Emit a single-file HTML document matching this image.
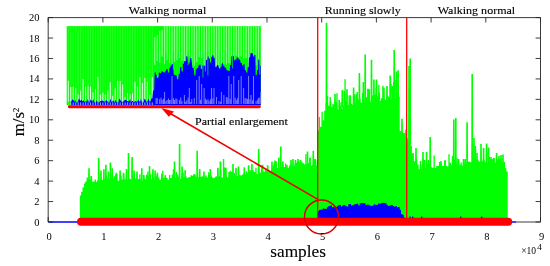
<!DOCTYPE html><html><head><meta charset="utf-8"><title>chart</title><style>html,body{margin:0;padding:0;background:#fff}svg{display:block}text{font-family:"Liberation Serif",serif;fill:#000}.b{stroke:#000;stroke-width:0.12px}</style></head><body>
<svg width="550" height="266" viewBox="0 0 550 266">
<rect width="550" height="266" fill="#fff"/>
<path d="M79.8,222 L79.80,195.49 L81.15,195.49 L81.15,191.80 L82.50,191.80 L82.50,187.42 L83.85,187.42 L83.85,183.53 L85.20,183.53 L85.20,181.58 L86.55,181.58 L86.55,177.47 L87.90,177.47 L87.90,179.56 L89.25,179.56 L89.25,179.69 L90.60,179.69 L90.60,176.06 L91.95,176.06 L91.95,182.10 L93.30,182.10 L93.30,181.49 L94.65,181.49 L94.65,179.58 L96.00,179.58 L96.00,181.81 L97.35,181.81 L97.35,180.26 L98.70,180.26 L98.70,180.50 L100.05,180.50 L100.05,178.45 L101.40,178.45 L101.40,179.88 L102.75,179.88 L102.75,179.65 L104.10,179.65 L104.10,179.13 L105.45,179.13 L105.45,175.55 L106.80,175.55 L106.80,178.53 L108.15,178.53 L108.15,178.12 L109.50,178.12 L109.50,180.30 L110.85,180.30 L110.85,178.41 L112.20,178.41 L112.20,178.77 L113.55,178.77 L113.55,176.18 L114.90,176.18 L114.90,174.85 L116.25,174.85 L116.25,173.91 L117.60,173.91 L117.60,180.80 L118.95,180.80 L118.95,180.64 L120.30,180.64 L120.30,175.87 L121.65,175.87 L121.65,179.56 L123.00,179.56 L123.00,174.35 L124.35,174.35 L124.35,179.59 L125.70,179.59 L125.70,178.39 L127.05,178.39 L127.05,180.28 L128.40,180.28 L128.40,178.73 L129.75,178.73 L129.75,178.96 L131.10,178.96 L131.10,180.87 L132.45,180.87 L132.45,174.81 L133.80,174.81 L133.80,179.33 L135.15,179.33 L135.15,178.58 L136.50,178.58 L136.50,178.54 L137.85,178.54 L137.85,179.06 L139.20,179.06 L139.20,174.16 L140.55,174.16 L140.55,179.19 L141.90,179.19 L141.90,180.83 L143.25,180.83 L143.25,177.69 L144.60,177.69 L144.60,179.37 L145.95,179.37 L145.95,174.54 L147.30,174.54 L147.30,171.50 L148.65,171.50 L148.65,175.93 L150.00,175.93 L150.00,174.31 L151.35,174.31 L151.35,179.25 L152.70,179.25 L152.70,177.51 L154.05,177.51 L154.05,180.08 L155.40,180.08 L155.40,175.35 L156.75,175.35 L156.75,176.16 L158.10,176.16 L158.10,177.86 L159.45,177.86 L159.45,179.63 L160.80,179.63 L160.80,178.86 L162.15,178.86 L162.15,170.74 L163.50,170.74 L163.50,178.03 L164.85,178.03 L164.85,177.36 L166.20,177.36 L166.20,178.06 L167.55,178.06 L167.55,179.68 L168.90,179.68 L168.90,175.01 L170.25,175.01 L170.25,178.12 L171.60,178.12 L171.60,174.52 L172.95,174.52 L172.95,177.99 L174.30,177.99 L174.30,177.65 L175.65,177.65 L175.65,171.97 L177.00,171.97 L177.00,174.50 L178.35,174.50 L178.35,176.84 L179.70,176.84 L179.70,178.92 L181.05,178.92 L181.05,176.53 L182.40,176.53 L182.40,172.65 L183.75,172.65 L183.75,177.25 L185.10,177.25 L185.10,176.02 L186.45,176.02 L186.45,177.77 L187.80,177.77 L187.80,177.60 L189.15,177.60 L189.15,176.92 L190.50,176.92 L190.50,175.36 L191.85,175.36 L191.85,175.75 L193.20,175.75 L193.20,173.98 L194.55,173.98 L194.55,174.45 L195.90,174.45 L195.90,176.78 L197.25,176.78 L197.25,177.27 L198.60,177.27 L198.60,177.20 L199.95,177.20 L199.95,176.66 L201.30,176.66 L201.30,176.42 L202.65,176.42 L202.65,175.93 L204.00,175.93 L204.00,176.75 L205.35,176.75 L205.35,175.56 L206.70,175.56 L206.70,177.86 L208.05,177.86 L208.05,172.19 L209.40,172.19 L209.40,174.19 L210.75,174.19 L210.75,175.53 L212.10,175.53 L212.10,177.46 L213.45,177.46 L213.45,178.06 L214.80,178.06 L214.80,176.64 L216.15,176.64 L216.15,176.37 L217.50,176.37 L217.50,176.97 L218.85,176.97 L218.85,175.91 L220.20,175.91 L220.20,170.63 L221.55,170.63 L221.55,177.46 L222.90,177.46 L222.90,159.10 L224.25,159.10 L224.25,167.43 L225.60,167.43 L225.60,176.56 L226.95,176.56 L226.95,177.54 L228.30,177.54 L228.30,171.89 L229.65,171.89 L229.65,170.83 L231.00,170.83 L231.00,171.78 L232.35,171.78 L232.35,176.77 L233.70,176.77 L233.70,173.07 L235.05,173.07 L235.05,176.16 L236.40,176.16 L236.40,176.07 L237.75,176.07 L237.75,175.40 L239.10,175.40 L239.10,174.64 L240.45,174.64 L240.45,175.38 L241.80,175.38 L241.80,174.39 L243.15,174.39 L243.15,173.51 L244.50,173.51 L244.50,174.47 L245.85,174.47 L245.85,171.29 L247.20,171.29 L247.20,172.75 L248.55,172.75 L248.55,170.62 L249.90,170.62 L249.90,170.25 L251.25,170.25 L251.25,171.37 L252.60,171.37 L252.60,170.14 L253.95,170.14 L253.95,172.07 L255.30,172.07 L255.30,167.85 L256.65,167.85 L256.65,174.12 L258.00,174.12 L258.00,167.95 L259.35,167.95 L259.35,172.69 L260.70,172.69 L260.70,172.37 L262.05,172.37 L262.05,164.70 L263.40,164.70 L263.40,171.78 L264.75,171.78 L264.75,169.57 L266.10,169.57 L266.10,170.68 L267.45,170.68 L267.45,171.45 L268.80,171.45 L268.80,170.27 L270.15,170.27 L270.15,171.15 L271.50,171.15 L271.50,168.24 L272.85,168.24 L272.85,165.22 L274.20,165.22 L274.20,160.28 L275.55,160.28 L275.55,161.23 L276.90,161.23 L276.90,168.04 L278.25,168.04 L278.25,169.24 L279.60,169.24 L279.60,165.23 L280.95,165.23 L280.95,166.99 L282.30,166.99 L282.30,164.53 L283.65,164.53 L283.65,167.02 L285.00,167.02 L285.00,163.39 L286.35,163.39 L286.35,164.91 L287.70,164.91 L287.70,167.64 L289.05,167.64 L289.05,165.32 L290.40,165.32 L290.40,165.81 L291.75,165.81 L291.75,166.40 L293.10,166.40 L293.10,166.16 L294.45,166.16 L294.45,163.68 L295.80,163.68 L295.80,162.69 L297.15,162.69 L297.15,161.60 L298.50,161.60 L298.50,161.96 L299.85,161.96 L299.85,164.38 L301.20,164.38 L301.20,161.79 L302.55,161.79 L302.55,163.27 L303.90,163.27 L303.90,164.25 L305.25,164.25 L305.25,154.23 L306.60,154.23 L306.60,164.43 L307.95,164.43 L307.95,162.91 L309.30,162.91 L309.30,157.59 L310.65,157.59 L310.65,165.70 L312.00,165.70 L312.00,165.03 L313.35,165.03 L313.35,159.37 L314.70,159.37 L314.70,158.89 L316.05,158.89 L316.05,165.85 L317.40,165.85 L317.40,130.39 L318.75,130.39 L318.75,116.97 L320.10,116.97 L320.10,126.69 L321.45,126.69 L321.45,111.75 L322.80,111.75 L322.80,120.22 L324.15,120.22 L324.15,110.87 L325.50,110.87 L325.50,102.90 L326.85,102.90 L326.85,95.99 L328.20,95.99 L328.20,105.65 L329.55,105.65 L329.55,96.99 L330.90,96.99 L330.90,107.22 L332.25,107.22 L332.25,103.66 L333.60,103.66 L333.60,104.83 L334.95,104.83 L334.95,102.40 L336.30,102.40 L336.30,93.17 L337.65,93.17 L337.65,109.29 L339.00,109.29 L339.00,105.75 L340.35,105.75 L340.35,102.36 L341.70,102.36 L341.70,108.52 L343.05,108.52 L343.05,105.82 L344.40,105.82 L344.40,79.27 L345.75,79.27 L345.75,101.12 L347.10,101.12 L347.10,105.06 L348.45,105.06 L348.45,95.42 L349.80,95.42 L349.80,102.39 L351.15,102.39 L351.15,103.99 L352.50,103.99 L352.50,104.91 L353.85,104.91 L353.85,94.51 L355.20,94.51 L355.20,102.77 L356.55,102.77 L356.55,92.07 L357.90,92.07 L357.90,99.48 L359.25,99.48 L359.25,98.13 L360.60,98.13 L360.60,102.64 L361.95,102.64 L361.95,93.01 L363.30,93.01 L363.30,102.30 L364.65,102.30 L364.65,98.39 L366.00,98.39 L366.00,97.26 L367.35,97.26 L367.35,89.33 L368.70,89.33 L368.70,89.28 L370.05,89.28 L370.05,101.42 L371.40,101.42 L371.40,95.45 L372.75,95.45 L372.75,95.50 L374.10,95.50 L374.10,94.42 L375.45,94.42 L375.45,87.96 L376.80,87.96 L376.80,96.13 L378.15,96.13 L378.15,84.67 L379.50,84.67 L379.50,100.85 L380.85,100.85 L380.85,98.35 L382.20,98.35 L382.20,85.86 L383.55,85.86 L383.55,98.80 L384.90,98.80 L384.90,99.84 L386.25,99.84 L386.25,98.71 L387.60,98.71 L387.60,96.38 L388.95,96.38 L388.95,97.15 L390.30,97.15 L390.30,83.97 L391.65,83.97 L391.65,98.77 L393.00,98.77 L393.00,81.66 L394.35,81.66 L394.35,79.95 L395.70,79.95 L395.70,98.42 L397.05,98.42 L397.05,94.86 L398.40,94.86 L398.40,96.83 L399.75,96.83 L399.75,131.04 L401.10,131.04 L401.10,132.32 L402.45,132.32 L402.45,133.12 L403.80,133.12 L403.80,132.95 L405.15,132.95 L405.15,129.38 L406.50,129.38 L406.50,138.16 L407.85,138.16 L407.85,141.29 L409.20,141.29 L409.20,138.28 L410.55,138.28 L410.55,145.71 L411.90,145.71 L411.90,154.31 L413.25,154.31 L413.25,161.29 L414.60,161.29 L414.60,161.21 L415.95,161.21 L415.95,159.17 L417.30,159.17 L417.30,164.39 L418.65,164.39 L418.65,169.20 L420.00,169.20 L420.00,164.91 L421.35,164.91 L421.35,168.64 L422.70,168.64 L422.70,159.86 L424.05,159.86 L424.05,167.70 L425.40,167.70 L425.40,168.20 L426.75,168.20 L426.75,163.91 L428.10,163.91 L428.10,166.83 L429.45,166.83 L429.45,163.74 L430.80,163.74 L430.80,167.25 L432.15,167.25 L432.15,167.71 L433.50,167.71 L433.50,155.62 L434.85,155.62 L434.85,168.02 L436.20,168.02 L436.20,166.11 L437.55,166.11 L437.55,165.74 L438.90,165.74 L438.90,162.07 L440.25,162.07 L440.25,163.01 L441.60,163.01 L441.60,165.79 L442.95,165.79 L442.95,166.12 L444.30,166.12 L444.30,161.55 L445.65,161.55 L445.65,165.92 L447.00,165.92 L447.00,166.55 L448.35,166.55 L448.35,154.35 L449.70,154.35 L449.70,162.73 L451.05,162.73 L451.05,165.19 L452.40,165.19 L452.40,165.56 L453.75,165.56 L453.75,159.68 L455.10,159.68 L455.10,164.80 L456.45,164.80 L456.45,158.33 L457.80,158.33 L457.80,162.86 L459.15,162.86 L459.15,164.68 L460.50,164.68 L460.50,162.52 L461.85,162.52 L461.85,165.74 L463.20,165.74 L463.20,164.21 L464.55,164.21 L464.55,160.27 L465.90,160.27 L465.90,165.01 L467.25,165.01 L467.25,161.79 L468.60,161.79 L468.60,161.52 L469.95,161.52 L469.95,163.46 L471.30,163.46 L471.30,162.00 L472.65,162.00 L472.65,158.43 L474.00,158.43 L474.00,162.28 L475.35,162.28 L475.35,162.83 L476.70,162.83 L476.70,159.30 L478.05,159.30 L478.05,160.42 L479.40,160.42 L479.40,161.73 L480.75,161.73 L480.75,162.50 L482.10,162.50 L482.10,160.74 L483.45,160.74 L483.45,160.30 L484.80,160.30 L484.80,162.18 L486.15,162.18 L486.15,163.31 L487.50,163.31 L487.50,152.46 L488.85,152.46 L488.85,157.03 L490.20,157.03 L490.20,159.89 L491.55,159.89 L491.55,159.02 L492.90,159.02 L492.90,157.85 L494.25,157.85 L494.25,162.89 L495.60,162.89 L495.60,161.86 L496.95,161.86 L496.95,159.49 L498.30,159.49 L498.30,160.83 L499.65,160.83 L499.65,159.54 L501.00,159.54 L501.00,161.91 L502.35,161.91 L502.35,163.11 L503.70,163.11 L503.70,162.05 L505.05,162.05 L505.05,168.18 L506.40,168.18 L506.40,171.58 L507.75,171.58 L507.75,222.00 L508.20,222.00 L508.2,222 Z" fill="#00ff00"/>
<path d="M88.05,183.95 L88.20,168.20 L89.80,168.20 L89.95,183.95 Z" fill="#00ff00"/>
<path d="M90.35,183.85 L90.50,176.00 L92.10,176.00 L92.25,183.85 Z" fill="#00ff00"/>
<path d="M97.75,183.51 L97.90,158.00 L99.50,158.00 L99.65,183.51 Z" fill="#00ff00"/>
<path d="M100.05,183.41 L100.20,170.50 L101.80,170.50 L101.95,183.41 Z" fill="#00ff00"/>
<path d="M102.95,183.28 L103.10,169.30 L104.70,169.30 L104.85,183.28 Z" fill="#00ff00"/>
<path d="M104.95,183.19 L105.10,164.80 L106.70,164.80 L106.85,183.19 Z" fill="#00ff00"/>
<path d="M107.45,183.07 L107.60,171.60 L109.20,171.60 L109.35,183.07 Z" fill="#00ff00"/>
<path d="M109.45,182.99 L109.60,162.60 L111.20,162.60 L111.35,182.99 Z" fill="#00ff00"/>
<path d="M111.25,182.94 L111.40,168.20 L113.00,168.20 L113.15,182.94 Z" fill="#00ff00"/>
<path d="M115.35,182.84 L115.50,172.70 L117.10,172.70 L117.25,182.84 Z" fill="#00ff00"/>
<path d="M119.15,182.75 L119.30,170.50 L120.90,170.50 L121.05,182.75 Z" fill="#00ff00"/>
<path d="M122.55,182.66 L122.70,172.70 L124.30,172.70 L124.45,182.66 Z" fill="#00ff00"/>
<path d="M125.55,182.59 L125.70,169.00 L127.30,169.00 L127.45,182.59 Z" fill="#00ff00"/>
<path d="M127.55,182.54 L127.70,153.00 L129.30,153.00 L129.45,182.54 Z" fill="#00ff00"/>
<path d="M131.15,182.45 L131.30,157.00 L132.90,157.00 L133.05,182.45 Z" fill="#00ff00"/>
<path d="M133.15,182.40 L133.30,170.50 L134.90,170.50 L135.05,182.40 Z" fill="#00ff00"/>
<path d="M136.05,182.32 L136.20,171.60 L137.80,171.60 L137.95,182.32 Z" fill="#00ff00"/>
<path d="M140.85,182.21 L141.00,168.20 L142.60,168.20 L142.75,182.21 Z" fill="#00ff00"/>
<path d="M142.85,182.16 L143.00,175.00 L144.60,175.00 L144.75,182.16 Z" fill="#00ff00"/>
<path d="M148.55,182.01 L148.70,166.00 L150.30,166.00 L150.45,182.01 Z" fill="#00ff00"/>
<path d="M151.95,181.85 L152.10,169.30 L153.70,169.30 L153.85,181.85 Z" fill="#00ff00"/>
<path d="M154.15,181.75 L154.30,170.50 L155.90,170.50 L156.05,181.75 Z" fill="#00ff00"/>
<path d="M156.45,181.63 L156.60,172.70 L158.20,172.70 L158.35,181.63 Z" fill="#00ff00"/>
<path d="M160.95,181.41 L161.10,173.40 L162.70,173.40 L162.85,181.41 Z" fill="#00ff00"/>
<path d="M164.35,181.24 L164.50,175.00 L166.10,175.00 L166.25,181.24 Z" fill="#00ff00"/>
<path d="M172.65,180.88 L172.80,169.30 L174.40,169.30 L174.55,180.88 Z" fill="#00ff00"/>
<path d="M173.55,180.85 L173.70,161.50 L175.30,161.50 L175.45,180.85 Z" fill="#00ff00"/>
<path d="M178.65,180.68 L178.80,143.90 L180.40,143.90 L180.55,180.68 Z" fill="#00ff00"/>
<path d="M181.15,180.60 L181.30,166.50 L182.90,166.50 L183.05,180.60 Z" fill="#00ff00"/>
<path d="M184.15,180.50 L184.30,170.30 L185.90,170.30 L186.05,180.50 Z" fill="#00ff00"/>
<path d="M196.25,180.09 L196.40,150.70 L198.00,150.70 L198.15,180.09 Z" fill="#00ff00"/>
<path d="M198.75,180.01 L198.90,169.00 L200.50,169.00 L200.65,180.01 Z" fill="#00ff00"/>
<path d="M203.05,179.87 L203.20,171.60 L204.80,171.60 L204.95,179.87 Z" fill="#00ff00"/>
<path d="M209.35,179.66 L209.50,169.00 L211.10,169.00 L211.25,179.66 Z" fill="#00ff00"/>
<path d="M216.95,179.40 L217.10,167.80 L218.70,167.80 L218.85,179.40 Z" fill="#00ff00"/>
<path d="M219.45,179.32 L219.60,161.50 L221.20,161.50 L221.35,179.32 Z" fill="#00ff00"/>
<path d="M223.25,179.19 L223.40,170.30 L225.00,170.30 L225.15,179.19 Z" fill="#00ff00"/>
<path d="M224.95,179.14 L225.10,167.80 L226.70,167.80 L226.85,179.14 Z" fill="#00ff00"/>
<path d="M232.05,178.70 L232.20,164.00 L233.80,164.00 L233.95,178.70 Z" fill="#00ff00"/>
<path d="M235.05,178.40 L235.20,167.80 L236.80,167.80 L236.95,178.40 Z" fill="#00ff00"/>
<path d="M237.55,178.15 L237.70,166.50 L239.30,166.50 L239.45,178.15 Z" fill="#00ff00"/>
<path d="M243.35,177.57 L243.50,167.30 L245.10,167.30 L245.25,177.57 Z" fill="#00ff00"/>
<path d="M247.65,177.14 L247.80,165.30 L249.40,165.30 L249.55,177.14 Z" fill="#00ff00"/>
<path d="M250.95,176.72 L251.10,164.00 L252.70,164.00 L252.85,176.72 Z" fill="#00ff00"/>
<path d="M257.75,175.69 L257.90,148.90 L259.50,148.90 L259.65,175.69 Z" fill="#00ff00"/>
<path d="M260.95,175.22 L261.10,165.30 L262.70,165.30 L262.85,175.22 Z" fill="#00ff00"/>
<path d="M266.75,174.34 L266.90,165.30 L268.50,165.30 L268.65,174.34 Z" fill="#00ff00"/>
<path d="M271.05,173.47 L271.20,161.50 L272.80,161.50 L272.95,173.47 Z" fill="#00ff00"/>
<path d="M273.55,172.80 L273.70,162.70 L275.30,162.70 L275.45,172.80 Z" fill="#00ff00"/>
<path d="M277.85,171.65 L278.00,157.70 L279.60,157.70 L279.75,171.65 Z" fill="#00ff00"/>
<path d="M279.85,171.12 L280.00,146.40 L281.60,146.40 L281.75,171.12 Z" fill="#00ff00"/>
<path d="M281.85,170.59 L282.00,161.50 L283.60,161.50 L283.75,170.59 Z" fill="#00ff00"/>
<path d="M290.05,168.50 L290.20,160.00 L291.80,160.00 L291.95,168.50 Z" fill="#00ff00"/>
<path d="M292.05,168.00 L292.20,159.00 L293.80,159.00 L293.95,168.00 Z" fill="#00ff00"/>
<path d="M294.55,167.48 L294.70,160.00 L296.30,160.00 L296.45,167.48 Z" fill="#00ff00"/>
<path d="M297.05,167.40 L297.20,159.00 L298.80,159.00 L298.95,167.40 Z" fill="#00ff00"/>
<path d="M299.55,167.32 L299.70,160.00 L301.30,160.00 L301.45,167.32 Z" fill="#00ff00"/>
<path d="M306.55,167.08 L306.70,151.60 L308.30,151.60 L308.45,167.08 Z" fill="#00ff00"/>
<path d="M312.35,167.47 L312.50,150.80 L314.10,150.80 L314.25,167.47 Z" fill="#00ff00"/>
<path d="M309.05,167.00 L309.20,158.00 L310.80,158.00 L310.95,167.00 Z" fill="#00ff00"/>
<path d="M314.55,167.79 L314.70,160.00 L316.30,160.00 L316.45,167.79 Z" fill="#00ff00"/>
<path d="M325.55,113.50 L325.70,22.70 L327.30,22.70 L327.45,113.50 Z" fill="#00ff00"/>
<path d="M329.55,110.00 L329.70,101.80 L331.30,101.80 L331.45,110.00 Z" fill="#00ff00"/>
<path d="M334.05,110.00 L334.20,94.00 L335.80,94.00 L335.95,110.00 Z" fill="#00ff00"/>
<path d="M338.25,108.74 L338.40,100.00 L340.00,100.00 L340.15,108.74 Z" fill="#00ff00"/>
<path d="M341.35,107.81 L341.50,90.00 L343.10,90.00 L343.25,107.81 Z" fill="#00ff00"/>
<path d="M343.45,107.18 L343.60,91.30 L345.20,91.30 L345.35,107.18 Z" fill="#00ff00"/>
<path d="M346.05,106.60 L346.20,89.20 L347.80,89.20 L347.95,106.60 Z" fill="#00ff00"/>
<path d="M349.25,105.96 L349.40,95.30 L351.00,95.30 L351.15,105.96 Z" fill="#00ff00"/>
<path d="M352.65,105.28 L352.80,87.40 L354.40,87.40 L354.55,105.28 Z" fill="#00ff00"/>
<path d="M355.35,104.74 L355.50,94.00 L357.10,94.00 L357.25,104.74 Z" fill="#00ff00"/>
<path d="M358.45,104.12 L358.60,72.90 L360.20,72.90 L360.35,104.12 Z" fill="#00ff00"/>
<path d="M362.45,103.32 L362.60,82.00 L364.20,82.00 L364.35,103.32 Z" fill="#00ff00"/>
<path d="M364.25,102.96 L364.40,54.50 L366.00,54.50 L366.15,102.96 Z" fill="#00ff00"/>
<path d="M367.15,102.38 L367.30,88.70 L368.90,88.70 L369.05,102.38 Z" fill="#00ff00"/>
<path d="M370.55,101.70 L370.70,59.70 L372.30,59.70 L372.45,101.70 Z" fill="#00ff00"/>
<path d="M372.95,101.22 L373.10,79.50 L374.70,79.50 L374.85,101.22 Z" fill="#00ff00"/>
<path d="M375.55,100.88 L375.70,79.50 L377.30,79.50 L377.45,100.88 Z" fill="#00ff00"/>
<path d="M378.25,100.66 L378.40,92.60 L380.00,92.60 L380.15,100.66 Z" fill="#00ff00"/>
<path d="M382.95,100.27 L383.10,87.40 L384.70,87.40 L384.85,100.27 Z" fill="#00ff00"/>
<path d="M386.05,100.02 L386.20,86.00 L387.80,86.00 L387.95,100.02 Z" fill="#00ff00"/>
<path d="M389.25,99.75 L389.40,75.50 L391.00,75.50 L391.15,99.75 Z" fill="#00ff00"/>
<path d="M391.35,99.58 L391.50,86.00 L393.10,86.00 L393.25,99.58 Z" fill="#00ff00"/>
<path d="M393.25,99.43 L393.40,50.00 L395.00,50.00 L395.15,99.43 Z" fill="#00ff00"/>
<path d="M395.55,99.24 L395.70,71.60 L397.30,71.60 L397.45,99.24 Z" fill="#00ff00"/>
<path d="M397.15,99.11 L397.30,70.30 L398.90,70.30 L399.05,99.11 Z" fill="#00ff00"/>
<path d="M409.25,144.68 L409.40,58.40 L411.00,58.40 L411.15,144.68 Z" fill="#00ff00"/>
<path d="M401.05,135.61 L401.20,118.80 L402.80,118.80 L402.95,135.61 Z" fill="#00ff00"/>
<path d="M408.05,144.05 L408.20,66.00 L409.80,66.00 L409.95,144.05 Z" fill="#00ff00"/>
<path d="M412.05,163.00 L412.20,153.00 L413.80,153.00 L413.95,163.00 Z" fill="#00ff00"/>
<path d="M415.05,169.75 L415.20,148.00 L416.80,148.00 L416.95,169.75 Z" fill="#00ff00"/>
<path d="M419.65,170.47 L419.80,161.00 L421.40,161.00 L421.55,170.47 Z" fill="#00ff00"/>
<path d="M422.05,170.38 L422.20,152.00 L423.80,152.00 L423.95,170.38 Z" fill="#00ff00"/>
<path d="M423.65,170.31 L423.80,160.00 L425.40,160.00 L425.55,170.31 Z" fill="#00ff00"/>
<path d="M425.65,170.22 L425.80,152.00 L427.40,152.00 L427.55,170.22 Z" fill="#00ff00"/>
<path d="M427.65,170.14 L427.80,160.00 L429.40,160.00 L429.55,170.14 Z" fill="#00ff00"/>
<path d="M429.25,170.07 L429.40,137.00 L431.00,137.00 L431.15,170.07 Z" fill="#00ff00"/>
<path d="M440.05,169.65 L440.20,161.00 L441.80,161.00 L441.95,169.65 Z" fill="#00ff00"/>
<path d="M444.05,169.50 L444.20,160.00 L445.80,160.00 L445.95,169.50 Z" fill="#00ff00"/>
<path d="M451.65,167.97 L451.80,156.00 L453.40,156.00 L453.55,167.97 Z" fill="#00ff00"/>
<path d="M452.85,167.90 L453.00,119.50 L454.60,119.50 L454.75,167.90 Z" fill="#00ff00"/>
<path d="M454.85,167.79 L455.00,118.00 L456.60,118.00 L456.75,167.79 Z" fill="#00ff00"/>
<path d="M457.65,167.63 L457.80,159.00 L459.40,159.00 L459.55,167.63 Z" fill="#00ff00"/>
<path d="M462.55,167.36 L462.70,159.00 L464.30,159.00 L464.45,167.36 Z" fill="#00ff00"/>
<path d="M464.35,167.26 L464.50,159.00 L466.10,159.00 L466.25,167.26 Z" fill="#00ff00"/>
<path d="M466.15,167.16 L466.30,122.20 L467.90,122.20 L468.05,167.16 Z" fill="#00ff00"/>
<path d="M469.05,167.00 L469.20,162.00 L470.80,162.00 L470.95,167.00 Z" fill="#00ff00"/>
<path d="M471.25,166.27 L471.40,74.00 L473.00,74.00 L473.15,166.27 Z" fill="#00ff00"/>
<path d="M473.05,165.67 L473.20,138.00 L474.80,138.00 L474.95,165.67 Z" fill="#00ff00"/>
<path d="M474.45,165.20 L474.60,146.00 L476.20,146.00 L476.35,165.20 Z" fill="#00ff00"/>
<path d="M476.05,165.00 L476.20,153.00 L477.80,153.00 L477.95,165.00 Z" fill="#00ff00"/>
<path d="M480.05,165.00 L480.20,144.00 L481.80,144.00 L481.95,165.00 Z" fill="#00ff00"/>
<path d="M482.65,165.00 L482.80,148.00 L484.40,148.00 L484.55,165.00 Z" fill="#00ff00"/>
<path d="M485.65,165.00 L485.80,143.60 L487.40,143.60 L487.55,165.00 Z" fill="#00ff00"/>
<path d="M487.65,165.00 L487.80,147.60 L489.40,147.60 L489.55,165.00 Z" fill="#00ff00"/>
<path d="M490.05,165.10 L490.20,157.00 L491.80,157.00 L491.95,165.10 Z" fill="#00ff00"/>
<path d="M493.05,165.40 L493.20,158.00 L494.80,158.00 L494.95,165.40 Z" fill="#00ff00"/>
<path d="M495.65,165.66 L495.80,153.00 L497.40,153.00 L497.55,165.66 Z" fill="#00ff00"/>
<path d="M498.05,165.90 L498.20,156.00 L499.80,156.00 L499.95,165.90 Z" fill="#00ff00"/>
<path d="M500.05,166.22 L500.20,155.00 L501.80,155.00 L501.95,166.22 Z" fill="#00ff00"/>
<path d="M502.05,166.67 L502.20,154.40 L503.80,154.40 L503.95,166.67 Z" fill="#00ff00"/>
<line x1="48.2" y1="222.0" x2="516" y2="222.0" stroke="#0000ff" stroke-width="1.5"/>
<path d="M317.80,222.00 L317.82,211.45 L318.90,211.45 L319.00,210.07 L320.08,210.07 L320.18,209.64 L321.45,209.64 L321.55,209.47 L322.81,209.47 L322.91,208.36 L324.17,208.36 L324.27,209.05 L325.54,209.05 L325.64,208.73 L326.90,208.73 L327.00,207.29 L328.26,207.29 L328.36,206.00 L330.08,206.00 L330.18,205.45 L331.90,205.45 L332.00,207.27 L333.72,207.27 L333.82,206.51 L335.54,206.51 L335.64,206.91 L336.90,206.91 L337.00,205.95 L338.26,205.95 L338.36,205.09 L339.63,205.09 L339.73,205.11 L340.99,205.11 L341.09,206.55 L342.35,206.55 L342.45,205.15 L343.72,205.15 L343.82,205.09 L345.08,205.09 L345.18,205.69 L346.45,205.69 L346.55,206.55 L348.26,206.55 L348.36,204.18 L349.63,204.18 L349.73,204.08 L350.99,204.08 L351.09,205.45 L352.35,205.45 L352.45,204.90 L353.72,204.90 L353.82,204.55 L355.08,204.55 L355.18,204.11 L356.45,204.11 L356.55,203.64 L358.26,203.64 L358.36,205.45 L359.63,205.45 L359.73,203.36 L360.99,203.36 L361.09,202.91 L362.35,202.91 L362.45,203.34 L363.72,203.34 L363.82,203.27 L365.54,203.27 L365.64,205.09 L366.90,205.09 L367.00,204.16 L368.26,204.16 L368.36,204.73 L369.63,204.73 L369.73,205.78 L370.99,205.78 L371.09,206.00 L372.35,206.00 L372.45,205.59 L373.72,205.59 L373.82,204.18 L375.08,204.18 L375.18,204.66 L376.45,204.66 L376.55,205.09 L377.81,205.09 L377.91,203.56 L379.17,203.56 L379.27,203.64 L380.54,203.64 L380.64,203.28 L381.90,203.28 L382.00,202.91 L383.26,202.91 L383.36,202.87 L384.63,202.87 L384.73,203.27 L386.45,203.27 L386.55,204.73 L387.81,204.73 L387.91,205.90 L389.17,205.90 L389.27,205.45 L390.99,205.45 L391.09,205.07 L392.81,205.07 L392.91,206.00 L394.17,206.00 L394.27,206.64 L395.54,206.64 L395.64,206.00 L396.90,206.00 L397.00,207.35 L398.26,207.35 L398.36,206.91 L399.72,206.91 L399.82,209.64 L400.99,209.64 L401.09,214.18 L402.81,214.18 L402.91,215.09 L403.72,215.09 L403.82,216.91 L404.50,216.91 L404.60,222.00 Z" fill="#0000ff"/>
<rect x="409.5" y="216.5" width="1.4" height="3" fill="#0000ff"/>
<rect x="412" y="216.5" width="1.4" height="3" fill="#0000ff"/>
<rect x="421" y="216.5" width="1.4" height="3" fill="#0000ff"/>
<rect x="481" y="216.5" width="1.4" height="3" fill="#0000ff"/>
<rect x="460" y="216.5" width="1.4" height="3" fill="#0000ff"/>
<rect x="66.7" y="26.1" width="194.10000000000002" height="79.1" fill="#00ff00"/>
<path d="M68.30,26.1 V105.2 M70.77,26.1 V105.2 M73.24,26.1 V105.2 M75.71,26.1 V105.2 M78.18,26.1 V105.2 M80.65,26.1 V105.2 M83.12,26.1 V105.2 M85.59,26.1 V105.2 M88.06,26.1 V105.2 M90.53,26.1 V105.2 M93.00,26.1 V105.2 M95.47,26.1 V105.2 M97.94,26.1 V105.2 M100.41,26.1 V105.2 M102.88,26.1 V105.2 M105.35,26.1 V105.2 M107.82,26.1 V105.2 M110.29,26.1 V105.2 M112.76,26.1 V105.2 M115.23,26.1 V105.2 M117.70,26.1 V105.2 M120.17,26.1 V105.2 M122.64,26.1 V105.2 M125.11,26.1 V105.2 M127.58,26.1 V105.2 M130.05,26.1 V105.2 M132.52,26.1 V105.2 M134.99,26.1 V105.2 M137.46,26.1 V105.2 M139.93,26.1 V105.2 M142.40,26.1 V105.2 M144.87,26.1 V105.2 M147.34,26.1 V105.2 M149.81,26.1 V105.2 M152.28,26.1 V105.2" stroke="#8cff8c" stroke-width="0.5" opacity="0.55" fill="none"/>
<path d="M68.30,80.77 V101.5 M70.77,87.15 V101.5 M73.24,86.74 V101.5 M75.71,88.26 V101.5 M78.18,94.44 V101.5 M80.65,90.64 V101.5 M83.12,79.10 V101.5 M85.59,86.57 V101.5 M88.06,85.86 V101.5 M90.53,86.83 V101.5 M93.00,92.46 V101.5 M95.47,89.28 V101.5 M97.94,76.80 V101.5 M100.41,94.64 V101.5 M102.88,92.72 V101.5 M105.35,94.67 V101.5 M107.82,90.46 V101.5 M110.29,82.19 V101.5 M112.76,95.86 V101.5 M115.23,88.22 V101.5 M117.70,80.75 V101.5 M120.17,81.01 V101.5 M122.64,84.52 V101.5 M125.11,96.95 V101.5 M127.58,93.06 V101.5 M130.05,94.31 V101.5 M132.52,93.32 V101.5 M134.99,81.77 V101.5 M137.46,86.46 V101.5 M139.93,77.19 V101.5 M142.40,83.01 V101.5 M144.87,77.86 V101.5 M147.34,81.71 V101.5 M149.81,94.93 V101.5 M152.28,76.89 V101.5" stroke="#e8ffe8" stroke-width="0.95" fill="none"/>
<path d="M154.75,37.37 V64.8 M157.22,35.01 V61.1 M159.69,30.67 V62.8 M162.16,30.07 V56.6 M164.63,26.10 V63.9 M167.10,26.10 V60.3 M169.57,26.10 V63.3 M172.04,26.10 V63.5 M174.51,26.10 V61.8 M176.98,26.10 V60.2 M179.45,26.10 V57.9 M181.92,26.10 V61.1 M184.39,26.10 V67.6 M186.86,26.10 V58.2 M189.33,26.10 V56.2 M191.80,26.10 V67.2 M194.27,26.10 V65.9 M196.74,26.10 V62.3 M199.21,26.10 V56.9 M201.68,26.10 V58.0 M204.15,26.10 V65.3 M206.62,26.10 V59.8 M209.09,26.10 V67.4 M211.56,26.10 V69.5 M214.03,26.10 V56.8 M216.50,26.10 V67.5 M218.97,26.10 V68.5 M221.44,26.10 V64.3 M223.91,26.10 V64.1 M226.38,26.10 V64.4 M228.85,26.10 V63.2 M231.32,26.10 V62.9 M233.79,26.10 V58.3 M236.26,26.10 V56.0 M238.73,26.10 V56.9 M241.20,26.10 V56.4 M243.67,26.10 V58.6 M246.14,26.10 V58.2 M248.61,26.10 V68.8 M251.08,26.10 V57.5 M253.55,26.10 V64.6 M256.02,26.10 V65.2 M258.49,26.10 V58.8" stroke="#7dff7d" stroke-width="1.25" fill="none"/>
<path d="M70.70,105.20 L70.70,102.20 L71.60,101.00 L72.50,99.60 L73.40,99.60 L74.30,102.60 L75.20,99.60 L76.10,102.60 L77.00,102.60 L77.90,102.20 L78.80,98.80 L79.70,99.60 L80.60,101.00 L81.50,99.60 L82.40,101.60 L83.30,100.20 L84.20,101.60 L85.10,102.60 L86.00,100.20 L86.90,102.60 L87.80,98.80 L88.70,102.20 L89.60,102.60 L90.50,99.60 L91.40,100.20 L92.30,102.20 L93.20,98.80 L94.10,102.20 L95.00,102.60 L95.90,102.20 L96.80,100.20 L97.70,102.60 L98.60,102.60 L99.50,102.20 L100.40,101.00 L101.30,101.00 L102.20,100.20 L103.10,101.60 L104.00,101.00 L104.90,102.60 L105.80,100.20 L106.70,100.20 L107.60,101.60 L108.50,102.60 L109.40,102.60 L110.30,98.80 L111.20,101.60 L112.10,102.60 L113.00,100.20 L113.90,101.60 L114.80,102.60 L115.70,99.60 L116.60,102.60 L117.50,102.20 L118.40,102.60 L119.30,98.80 L120.20,99.60 L121.10,101.60 L122.00,101.60 L122.90,102.60 L123.80,101.00 L124.70,100.20 L125.60,99.60 L126.50,100.20 L127.40,101.00 L128.30,101.60 L129.20,101.00 L130.10,98.80 L131.00,102.60 L131.90,101.00 L132.80,101.00 L133.70,102.60 L134.60,101.60 L135.50,101.00 L136.40,102.20 L137.30,101.60 L138.20,99.60 L139.10,101.00 L140.00,102.20 L140.90,98.80 L141.80,102.60 L142.70,102.60 L143.60,102.60 L144.50,98.80 L145.40,99.60 L146.30,102.20 L147.20,102.20 L148.10,98.80 L149.00,99.60 L149.90,102.60 L150.80,100.20 L151.70,98.80 L152.60,100.20 L153.20,105.20 Z" fill="#0000ff"/>
<path d="M151.20,105.20 L151.25,98.50 L152.35,98.50 L153.05,90.60 L154.15,90.60 L154.65,72.60 L155.75,72.60 L155.80,74.92 L156.80,74.92 L156.85,78.00 L157.95,78.00 L158.45,72.60 L159.55,72.60 L160.00,73.35 L161.00,73.35 L161.45,71.40 L162.55,71.40 L163.65,72.60 L164.75,72.60 L165.05,71.22 L166.05,71.22 L166.35,69.00 L167.45,69.00 L168.15,72.60 L169.25,72.60 L169.35,68.05 L170.35,68.05 L170.45,65.80 L171.55,65.80 L171.95,64.00 L173.05,64.00 L173.75,74.80 L174.85,74.80 L175.50,75.32 L176.50,75.32 L177.15,79.30 L178.25,79.30 L178.70,73.89 L179.70,73.89 L180.15,67.00 L181.25,67.00 L181.65,71.50 L182.75,71.50 L182.85,63.87 L183.85,63.87 L183.95,61.30 L185.05,61.30 L185.15,61.26 L186.15,61.26 L186.25,56.30 L187.35,56.30 L188.45,63.50 L189.55,63.50 L190.25,57.90 L191.35,57.90 L192.45,68.00 L193.55,68.00 L194.45,75.50 L195.55,75.50 L195.70,69.62 L196.70,69.62 L196.85,68.00 L197.95,68.00 L198.65,65.30 L199.75,65.30 L199.80,64.31 L200.80,64.31 L200.85,69.00 L201.95,69.00 L202.25,65.14 L203.25,65.14 L203.55,66.00 L204.65,66.00 L204.75,65.57 L205.75,65.57 L205.85,60.00 L206.95,60.00 L207.65,56.50 L208.75,56.50 L208.85,58.62 L209.85,58.62 L209.95,62.60 L211.05,62.60 L211.15,56.75 L212.15,56.75 L212.25,55.20 L213.35,55.20 L213.75,58.27 L214.75,58.27 L215.15,67.00 L216.25,67.00 L217.20,64.95 L218.20,64.95 L219.15,68.40 L220.25,68.40 L220.55,66.86 L221.55,66.86 L221.85,63.00 L222.95,63.00 L223.25,65.80 L224.25,65.80 L224.55,67.00 L225.65,67.00 L226.65,70.18 L227.65,70.18 L228.65,71.00 L229.75,71.00 L230.05,65.02 L231.05,65.02 L231.35,56.20 L232.45,56.20 L232.75,55.64 L233.75,55.64 L234.05,60.30 L235.15,60.30 L235.45,59.49 L236.45,59.49 L236.75,57.60 L237.85,57.60 L238.85,59.48 L239.85,59.48 L240.85,63.00 L241.95,63.00 L242.20,65.56 L243.20,65.56 L243.45,64.30 L244.55,64.30 L244.90,70.27 L245.90,70.27 L246.25,72.40 L247.35,72.40 L247.65,67.35 L248.65,67.35 L248.95,57.60 L250.05,57.60 L250.60,52.95 L251.60,52.95 L252.15,53.50 L253.25,53.50 L253.30,56.41 L254.30,56.41 L254.35,54.90 L255.45,54.90 L255.65,75.00 L256.75,75.00 L257.05,69.99 L258.05,69.99 L258.35,60.00 L259.45,60.00 L260.25,66.00 L260.80,66.00 L260.80,105.20 Z" fill="#0000ff"/>
<path d="M158.47,52 V77.19 M165.88,52 V67.61 M173.29,52 V69.50 M178.23,52 V70.38 M188.11,52 V65.44 M195.52,52 V68.42 M200.46,52 V65.30 M202.93,52 V77.72 M205.40,52 V71.51 M207.87,52 V75.49 M220.22,52 V65.78 M225.16,52 V68.15 M232.57,52 V68.38 M257.27,52 V69.84 M259.74,52 V74.51" stroke="#10e840" stroke-width="0.75" fill="none"/>
<path d="M157.20,98.00 V104 M156.10,98.02 V104 M159.67,99.00 V104 M162.14,100.00 V104 M161.04,97.66 V104 M164.61,92.00 V104 M163.51,98.68 V104 M167.08,100.00 V104 M165.98,100.80 V104 M169.55,100.00 V104 M168.45,98.44 V104 M172.02,76.00 V104 M170.92,99.59 V104 M174.49,100.00 V104 M173.39,98.08 V104 M176.96,99.00 V104 M175.86,98.44 V104 M179.43,100.00 V104 M181.90,101.00 V104 M180.80,97.48 V104 M184.37,95.00 V104 M186.84,100.00 V104 M185.74,101.72 V104 M189.31,88.00 V104 M188.21,97.55 V104 M191.78,99.00 V104 M190.68,101.96 V104 M194.25,98.00 V104 M196.72,80.00 V104 M199.19,76.00 V104 M201.66,84.00 V104 M200.56,99.72 V104 M204.13,88.00 V104 M206.60,100.00 V104 M205.50,98.63 V104 M209.07,101.00 V104 M207.97,99.19 V104 M211.54,88.00 V104 M210.44,99.31 V104 M214.01,88.00 V104 M212.91,98.34 V104 M216.48,97.00 V104 M218.95,101.00 V104 M221.42,92.00 V104 M220.32,101.77 V104 M223.89,95.00 V104 M226.36,97.00 V104 M228.83,76.00 V104 M227.73,97.55 V104 M231.30,84.00 V104 M230.20,98.94 V104 M233.77,76.00 V104 M236.24,100.00 V104 M235.14,97.71 V104 M238.71,80.00 V104 M237.61,98.21 V104 M241.18,76.00 V104 M243.65,88.00 V104 M246.12,98.00 V104 M245.02,98.30 V104 M248.59,76.00 V104 M247.49,99.00 V104 M251.06,95.00 V104 M249.96,99.12 V104 M253.53,76.00 V104 M252.43,100.31 V104 M256.00,101.00 V104 M258.47,98.00 V104 M257.37,99.72 V104 M260.94,92.00 V104 M259.84,97.51 V104" stroke="#b0b0ff" stroke-width="0.7" fill="none"/>
<path d="M70.77,102.4 V105.3 M73.24,102.4 V105.3 M75.71,102.4 V105.3 M78.18,102.4 V105.3 M80.65,102.4 V105.3 M83.12,102.4 V105.3 M85.59,102.4 V105.3 M88.06,102.4 V105.3 M90.53,102.4 V105.3 M93.00,102.4 V105.3 M95.47,102.4 V105.3 M97.94,102.4 V105.3 M100.41,102.4 V105.3 M102.88,102.4 V105.3 M105.35,102.4 V105.3 M107.82,102.4 V105.3 M110.29,102.4 V105.3 M112.76,102.4 V105.3 M115.23,102.4 V105.3 M117.70,102.4 V105.3 M120.17,102.4 V105.3 M122.64,102.4 V105.3 M125.11,102.4 V105.3 M127.58,102.4 V105.3 M130.05,102.4 V105.3 M132.52,102.4 V105.3 M134.99,102.4 V105.3 M137.46,102.4 V105.3 M139.93,102.4 V105.3 M142.40,102.4 V105.3 M144.87,102.4 V105.3 M147.34,102.4 V105.3 M149.81,102.4 V105.3 M152.28,102.4 V105.3" stroke="#ffffff" stroke-width="0.8" opacity="0.8" fill="none"/>
<line x1="69.3" y1="106.7" x2="259.40000000000003" y2="106.7" stroke="#ff0000" stroke-width="2.9" stroke-linecap="round"/>
<line x1="81" y1="221.7" x2="508.2" y2="221.7" stroke="#ff0000" stroke-width="8.0" stroke-linecap="round"/>
<line x1="317.7" y1="18" x2="317.7" y2="222" stroke="#ff0000" stroke-width="1.3"/>
<line x1="406.7" y1="18" x2="406.7" y2="222" stroke="#ff0000" stroke-width="1.3"/>
<circle cx="321.5" cy="216.9" r="17" fill="none" stroke="#d80000" stroke-width="1.5"/>
<line x1="318.2" y1="199.6" x2="169" y2="112.7" stroke="#f00000" stroke-width="1.6"/>
<path d="M161.3,107.9 L174,111.5 L168.8,116.8 Z" fill="#ff0000"/>
<path d="M48.2,17.599999999999994 H540.5 V222.0" fill="none" stroke="#262626" stroke-width="0.9"/>
<path d="M48.2,17.599999999999994 V222.0" fill="none" stroke="#262626" stroke-width="0.9"/>
<path d="M516,222.0 H540.5" fill="none" stroke="#262626" stroke-width="0.9"/>
<path d="M48.20,17.599999999999994 v4.9 M48.20,222.0 v-4.9 M102.90,17.599999999999994 v4.9 M157.60,17.599999999999994 v4.9 M212.30,17.599999999999994 v4.9 M267.00,17.599999999999994 v4.9 M321.70,17.599999999999994 v4.9 M376.40,17.599999999999994 v4.9 M431.10,17.599999999999994 v4.9 M485.80,17.599999999999994 v4.9 M540.50,17.599999999999994 v4.9 M540.50,222.0 v-4.9 M48.2,222.00 h4.9 M540.5,222.00 h-4.9 M48.2,201.56 h4.9 M540.5,201.56 h-4.9 M48.2,181.12 h4.9 M540.5,181.12 h-4.9 M48.2,160.68 h4.9 M540.5,160.68 h-4.9 M48.2,140.24 h4.9 M540.5,140.24 h-4.9 M48.2,119.80 h4.9 M540.5,119.80 h-4.9 M48.2,99.36 h4.9 M540.5,99.36 h-4.9 M48.2,78.92 h4.9 M540.5,78.92 h-4.9 M48.2,58.48 h4.9 M540.5,58.48 h-4.9 M48.2,38.04 h4.9 M540.5,38.04 h-4.9 M48.2,17.60 h4.9 M540.5,17.60 h-4.9" fill="none" stroke="#262626" stroke-width="0.9"/>
<text x="49.2" y="240.2" font-size="10.5" text-anchor="middle" fill="#262626">0</text>
<text x="103.9" y="240.2" font-size="10.5" text-anchor="middle" fill="#262626">1</text>
<text x="158.6" y="240.2" font-size="10.5" text-anchor="middle" fill="#262626">2</text>
<text x="213.3" y="240.2" font-size="10.5" text-anchor="middle" fill="#262626">3</text>
<text x="268.0" y="240.2" font-size="10.5" text-anchor="middle" fill="#262626">4</text>
<text x="322.7" y="240.2" font-size="10.5" text-anchor="middle" fill="#262626">5</text>
<text x="377.4" y="240.2" font-size="10.5" text-anchor="middle" fill="#262626">6</text>
<text x="432.1" y="240.2" font-size="10.5" text-anchor="middle" fill="#262626">7</text>
<text x="486.8" y="240.2" font-size="10.5" text-anchor="middle" fill="#262626">8</text>
<text x="541.5" y="240.2" font-size="10.5" text-anchor="middle" fill="#262626">9</text>
<text x="39.6" y="225.5" font-size="10.5" text-anchor="end" fill="#262626">0</text>
<text x="39.6" y="205.1" font-size="10.5" text-anchor="end" fill="#262626">2</text>
<text x="39.6" y="184.6" font-size="10.5" text-anchor="end" fill="#262626">4</text>
<text x="39.6" y="164.2" font-size="10.5" text-anchor="end" fill="#262626">6</text>
<text x="39.6" y="143.7" font-size="10.5" text-anchor="end" fill="#262626">8</text>
<text x="39.6" y="123.3" font-size="10.5" text-anchor="end" fill="#262626">10</text>
<text x="39.6" y="102.9" font-size="10.5" text-anchor="end" fill="#262626">12</text>
<text x="39.6" y="82.4" font-size="10.5" text-anchor="end" fill="#262626">14</text>
<text x="39.6" y="62.0" font-size="10.5" text-anchor="end" fill="#262626">16</text>
<text x="39.6" y="41.5" font-size="10.5" text-anchor="end" fill="#262626">18</text>
<text x="39.6" y="21.1" font-size="10.5" text-anchor="end" fill="#262626">20</text>
<text x="521.2" y="254" font-size="9.5" fill="#262626">×10</text>
<text x="537.3" y="249.8" font-size="9" fill="#262626">4</text>
<text class="b" x="270.3" y="256.5" font-size="17" textLength="55.6" lengthAdjust="spacingAndGlyphs">samples</text>
<text class="b" transform="translate(23.5,136.2) rotate(-90)" font-size="16" textLength="24.2" lengthAdjust="spacingAndGlyphs">m/s</text>
<text class="b" transform="translate(18.6,112.1) rotate(-90)" font-size="8.5">2</text>
<text class="b" x="128.8" y="13.8" font-size="10.8" textLength="77.5" lengthAdjust="spacingAndGlyphs">Walking normal</text>
<text class="b" x="324.8" y="13.8" font-size="10.8" textLength="76" lengthAdjust="spacingAndGlyphs">Running slowly</text>
<text class="b" x="437.7" y="13.8" font-size="10.8" textLength="77.5" lengthAdjust="spacingAndGlyphs">Walking normal</text>
<text class="b" x="195" y="124.5" font-size="10.8" textLength="92.8" lengthAdjust="spacingAndGlyphs">Partial enlargement</text>
</svg></body></html>
